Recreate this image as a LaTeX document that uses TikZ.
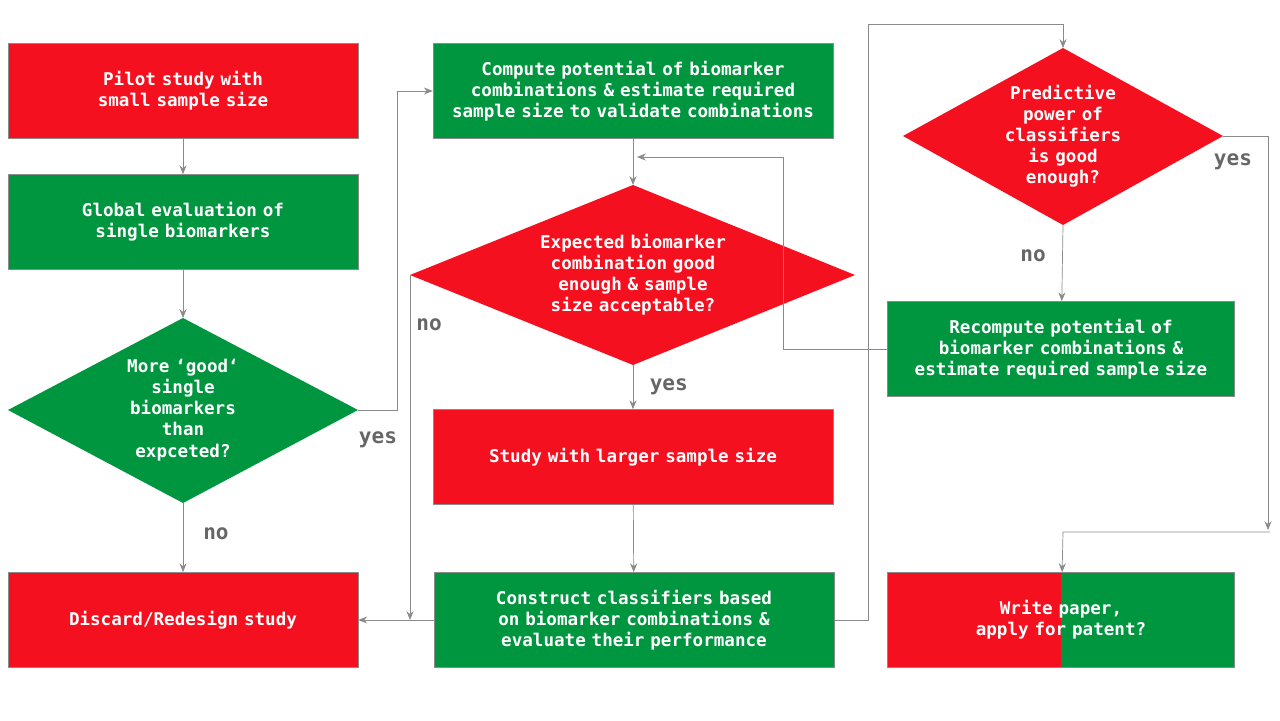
\documentclass[tikz,border=0pt]{standalone}
\usepackage{fontspec}
\setmonofont{DejaVu Sans Mono}
\usetikzlibrary{shapes.geometric,arrows.meta}
\definecolor{fred}{HTML}{F5101F}
\definecolor{fgreen}{HTML}{00963F}
\definecolor{fline}{HTML}{8A8A8A}
\definecolor{flabel}{HTML}{666666}
\tikzset{
  box/.style={draw=fline,rectangle,minimum width=7cm,minimum height=1.9cm,text width=6.6cm,
    align=center,text=white,font=\ttfamily\bfseries\fontsize{10}{12}\selectfont},
  redbox/.style={box,fill=fred},
  greenbox/.style={box,fill=fgreen},
  dia/.style={diamond,aspect=1.9,inner sep=0pt,text=white,align=center,
    font=\ttfamily\bfseries\fontsize{10}{12}\selectfont},
  flow/.style={draw=fline,-{Stealth[length=5pt,width=4pt]}},
  lab/.style={text=flabel,font=\ttfamily\bfseries\fontsize{12}{14}\selectfont}
}
\begin{document}
\begin{tikzpicture}[x=0.02cm,y=-0.02cm]
  \useasboundingbox (0,0) rectangle (1280,720);
  % left column
  \node[redbox] (pilot) at (183,91) {Pilot study with small sample size};
  \node[greenbox] (global) at (183,222) {Global evaluation of single biomarkers};
  \path[fill=fgreen] (8,410) -- (183,318) -- (358,410) -- (183,503) -- cycle;
  \node[dia,text width=3cm] (more) at (183,410) {More ‘good‘\\single\\biomarkers\\than\\expceted?};
  \node[redbox] (discard) at (183,620) {Discard/Redesign study};
  % middle column
  \node[greenbox,minimum width=8cm,text width=7.6cm] (compute) at (633,91) {Compute potential of biomarker combinations \& estimate required sample size to validate combinations};
  \path[fill=fred] (410,275) -- (633,185) -- (855,275) -- (633,365) -- cycle;
  \node[dia,text width=5cm] (expected) at (633,275) {Expected biomarker\\combination good\\enough \& sample\\size acceptable?};
  \node[redbox,minimum width=8cm,text width=7.6cm] (study) at (633,457) {Study with larger sample size};
  \node[greenbox,minimum width=8cm,text width=7.6cm] (construct) at (634,620) {Construct classifiers based on biomarker combinations \& evaluate their performance};
  % right column
  \path[fill=fred] (903,136) -- (1063,48) -- (1223,136) -- (1063,225) -- cycle;
  \node[dia,text width=3cm] (pred) at (1063,136) {Predictive\\power of\\classifiers\\is good\\enough?};
  \node[greenbox,minimum width=6.94cm,text width=6.6cm] (recompute) at (1061,349) {Recompute potential of biomarker combinations \& estimate required sample size};
  \fill[fred] (888,572) rectangle (1061,668);
  \fill[fgreen] (1061,572) rectangle (1235,668);
  \node[box,minimum width=6.94cm,text width=6.6cm] (write) at (1061,620) {Write paper,\\apply for patent?};
  % connectors
  \draw[flow] (pilot) -- (global);
  \draw[flow] (global) -- (183,318);
  \draw[flow] (183,503) -- (discard) node[lab,pos=0.45,right=8pt] {no};
  \draw[flow] (358,410) -- (397,410) -- (397,91) -- (compute);
  \node[lab] at (378,440) {yes};
  \draw[flow] (compute.south) -- (633,185);
  \draw[flow] (633,365) -- (study) node[lab,midway,right=6pt] {yes};
  \draw[flow] (410,275) -- (410,620);
  \node[lab] at (429,325) {no};
  \draw[flow] (construct) -- (discard);
  \draw[flow] (study) -- (construct);
  \draw[flow] (construct.east) -- (868,620) -- (868,24) -- (1063,24) -- (1063,48);
  \draw[flow] (1063,225) -- (recompute) node[lab,pos=0.4,left=6pt] {no};
  \draw[flow] (1223,136) -- (1268,136) -- (1268,530);
  \node[lab] at (1233,162) {yes};
  \draw[flow] (1270,532) -- (1063,532) -- (write);
  \draw[flow] (recompute.west) -- (783,349) -- (783,157) -- (637,157);
\end{tikzpicture}
\end{document}
